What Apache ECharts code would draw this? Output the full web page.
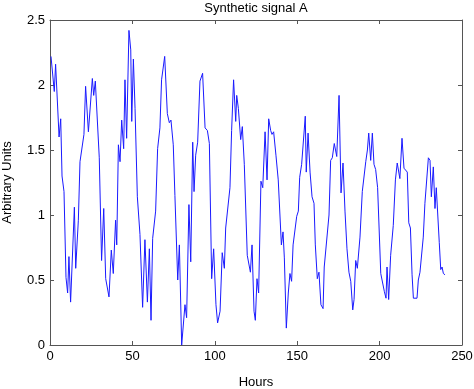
<!DOCTYPE html>
<html><head><meta charset="utf-8">
<script src="https://cdn.jsdelivr.net/npm/echarts@6/dist/echarts.min.js"></script>
<style>html,body{margin:0;padding:0;background:#fff}#c{width:474px;height:389px}</style>
</head><body><div id="c"></div>
<script>
const hours = [0.6,1.8,2.6,3.4,5.5,6.5,7.3,8.5,9.7,10.7,11.5,12.5,14.8,15.6,17.2,18.2,19,20.6,21.6,23.3,25.7,26.5,27.5,29.9,31.3,32.6,33.8,34.4,35.8,37.2,38.4,39.8,40.5,41.5,
42.5,43.5,44.7,45.5,46.5,47.9,49,49.6,50.6,51.6,53,54.6,56.2,57.6,59.1,60.3,61.3,62.3,64.1,65.3,66.7,67.7,69.6,71.2,72.4,73.4,74.8,75.8,77.5,78.5,79.9,80.9,81.9,82.9,84.3,
85.4,86.6,87.4,88.4,89.6,91,92.6,94.1,95.5,96.7,98.1,99.3,100.7,101.7,103.2,104.5,105.8,106.6,107.8,109.2,110.2,111.4,112.7,113.3,114.3,115.7,116.7,117.9,119.7,120.9,121.6,122.6,123.8,124.6,125.6,126.6,
128,129.1,130.5,131.7,132.7,133.9,134.7,135.7,137.1,138.5,140.4,141.4,142.2,143.4,144.6,145.6,146.6,147.5,148.7,149.7,150.7,151.5,152.7,153.9,154.9,155.5,156.6,157.8,159,160.2,161,162.2,163.2,164.4,165.7,166.4,167.5,169.3,
170.3,171.3,172.5,174,175.4,176.6,177.8,179,180.2,181.4,182.5,183.7,184.5,185.5,186.5,188.1,189.5,190.7,191.6,192.6,193.4,194.6,195.6,196.6,197.6,198.8,200.7,201.9,202.9,203.9,204.5,205.5,206.7,208.3,209.6,210.7,212.3,
213.6,214.8,216,216.8,217.7,218.7,219.7,220.5,221.5,222.7,223.5,224.5,226.5,227.5,228.6,229.6,230.6,231.4,232.6,233.6,234.4,235.4,236.2,237.1,237.9,238.7,239.7];
const values = [2.22,2.22,1.95,2.16,1.60,1.74,1.30,1.18,0.52,0.40,0.68,0.33,1.06,0.59,0.96,1.41,1.41,1.62,1.99,1.64,2.05,1.92,2.03,1.44,0.65,1.05,0.51,0.51,0.37,0.73,0.55,0.96,0.77,1.54,
1.41,1.73,1.51,2.04,1.59,2.42,2.27,1.72,2.20,1.82,1.14,0.85,0.29,0.81,0.33,0.74,0.19,0.82,1.03,1.51,1.67,2.04,2.22,1.78,1.71,1.73,1.54,1.15,0.50,0.77,0.00,0.00,0.31,0.21,1.08,
0.64,1.56,1.18,1.46,1.56,2.03,2.09,1.67,1.65,1.55,0.51,0.74,0.31,0.17,0.26,0.71,0.59,0.90,0.91,1.21,1.65,2.04,1.72,1.92,1.82,1.58,1.68,1.39,0.69,0.68,0.56,0.77,0.26,0.19,0.51,0.40,
1.26,1.21,1.64,1.27,1.74,1.65,1.62,1.64,1.46,1.27,0.77,0.87,0.67,0.13,0.40,0.55,0.49,0.77,0.78,0.99,1.03,1.29,1.39,1.39,1.76,1.33,1.63,1.33,1.14,1.09,0.77,0.51,0.56,0.31,0.28,0.60,0.60,1.00,
1.42,1.44,1.55,1.45,1.92,1.17,1.40,1.03,0.74,0.56,0.49,0.27,0.35,0.65,0.59,0.83,1.18,1.18,1.41,1.50,1.63,1.42,1.63,1.39,1.35,1.21,0.55,0.54,0.41,0.36,0.60,0.35,0.69,0.92,1.27,1.40,1.28,
1.59,1.36,1.35,1.33,0.94,0.90,0.54,0.36,0.37,0.36,0.50,0.56,0.83,1.09,1.09,1.44,1.42,1.14,1.37,1.05,1.21,1.20,0.79,0.58,0.60,0.55,0.54];
const titleText = 'Synthetic signal A';
const xName = 'Hours';
const yName = 'Arbitrary Units';

const font = 'Liberation Sans, Arial, Helvetica, sans-serif';
const axisCol = '#555';
const chart = echarts.init(document.getElementById('c'));
const axLine = {show:true, onZero:false, lineStyle:{color:axisCol, width:1}};
const tick = {show:true, inside:true, length:4, lineStyle:{color:axisCol}};
chart.setOption({
  animation:false,
  backgroundColor:'#fff',
  title:{text:titleText, left:256, textAlign:'center', top:2, padding:0, textStyle:{fontFamily:font, fontSize:13, fontWeight:'normal', color:'#000'}},
  grid:{left:50, right:12, top:20, bottom:44, containLabel:false, outerBoundsMode:'none'},
  xAxis:[
    {type:'value', min:0, max:250, interval:50, position:'bottom', name:xName, nameLocation:'middle', nameGap:31,
     nameTextStyle:{fontFamily:font, fontSize:13, color:'#000'},
     axisLine:axLine, axisTick:tick, splitLine:{show:false},
     axisLabel:{fontFamily:font, fontSize:13, color:'#000', margin:5}},
    {type:'value', min:0, max:250, interval:50, position:'top', axisLine:axLine, axisTick:tick, splitLine:{show:false}, axisLabel:{show:false}}
  ],
  yAxis:[
    {type:'value', min:0, max:2.5, interval:0.5, position:'left', name:yName, nameLocation:'middle', nameGap:36,
     nameTextStyle:{fontFamily:font, fontSize:13, color:'#000'},
     axisLine:axLine, axisTick:tick, splitLine:{show:false},
     axisLabel:{fontFamily:font, fontSize:13, color:'#000', margin:5}},
    {type:'value', min:0, max:2.5, interval:0.5, position:'right', axisLine:axLine, axisTick:tick, splitLine:{show:false}, axisLabel:{show:false}}
  ],
  series:[{type:'line', xAxisIndex:0, yAxisIndex:0, showSymbol:false, symbol:'none',
    data:hours.map((h,i)=>[h, values[i]]),
    lineStyle:{color:'#1a1aff', width:1}}]
});
</script></body></html>
